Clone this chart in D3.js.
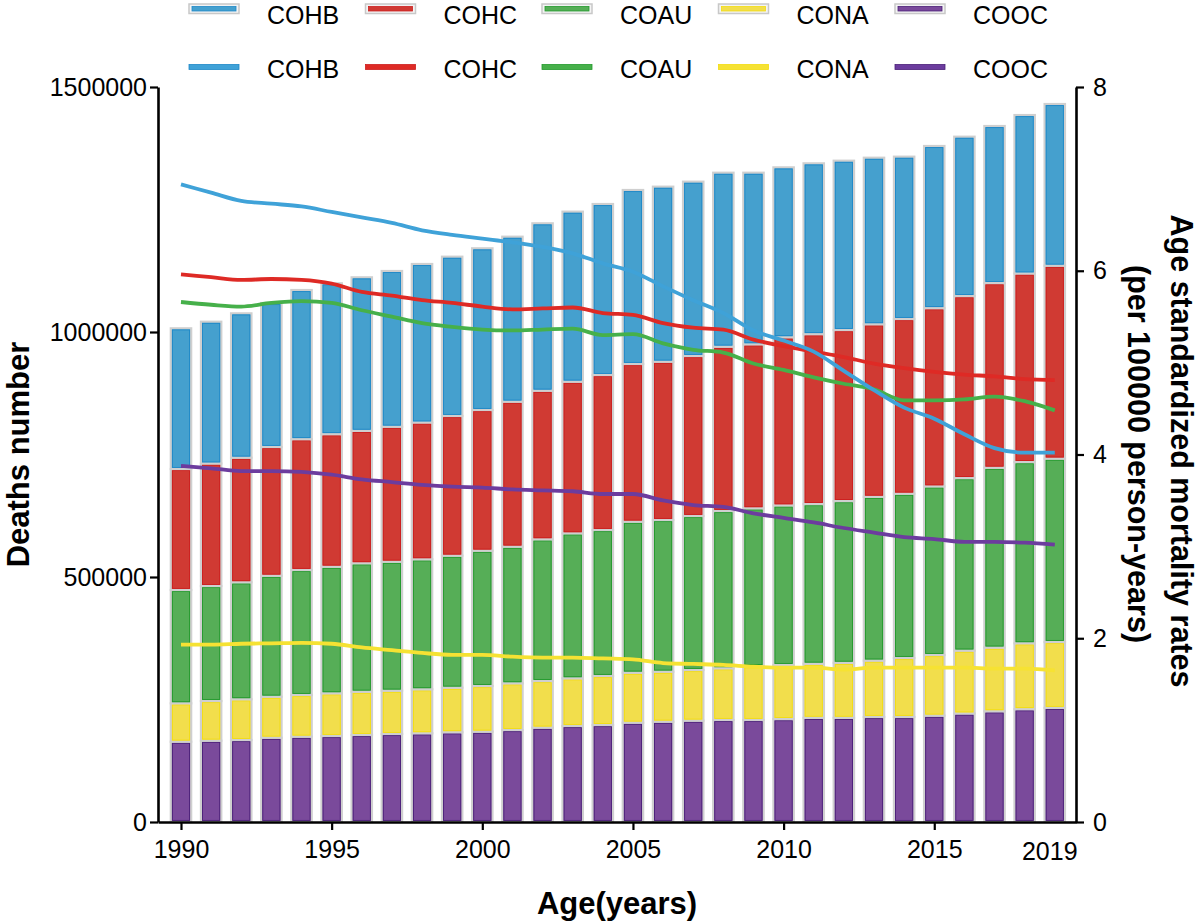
<!DOCTYPE html>
<html><head><meta charset="utf-8">
<script src="https://cdn.jsdelivr.net/npm/d3@7"></script>
<style>
html,body{margin:0;padding:0;background:#fff;}
svg{display:block;font-family:"Liberation Sans",Arial,Helvetica,sans-serif;}
</style></head>
<body><svg id="c" width="1200" height="923"></svg>
<script>
const years = [1990,1991,1992,1993,1994,1995,1996,1997,1998,1999,2000,2001,2002,2003,2004,2005,2006,2007,2008,2009,2010,2011,2012,2013,2014,2015,2016,2017,2018,2019];
const seriesNames = ["COHB","COHC","COAU","CONA","COOC"];
// Deaths number (stacked bars)
const deathsCOOC = [163900,165900,167300,172000,174100,175500,177600,179600,181000,183100,184300,187700,192500,195900,197900,202700,204700,206800,208200,208200,210000,212600,212600,214300,214300,217000,221400,225900,230200,232800];
const deathsCONA = [78300,81000,83100,83700,85100,87100,88300,88400,89800,91000,93200,95300,95200,97300,100100,102000,102100,103400,105500,109800,110400,110400,112300,115100,120400,123800,128400,130000,134500,134500];
const deathsCOAU = [231300,234700,238800,246900,255100,258400,262100,263200,265300,269400,276200,278900,289200,295900,297900,308200,309500,314300,321000,322200,325700,325800,330000,334300,335300,344100,352000,367100,369800,374300];
const deathsCOHC = [246900,250000,254300,262700,266900,270400,270300,275500,279200,285100,287100,295900,303300,309500,316300,321800,323100,326500,335300,334600,343100,346700,349100,352000,356500,363700,371500,376800,384900,393700];
const deathsCOHB = [287100,289400,294600,293900,304500,308000,313300,317800,323500,325100,330000,336700,341600,347000,349000,355100,357200,355800,355100,350300,346800,348700,345600,340000,331300,331000,325300,320600,323400,330000];
// Age standardized mortality rates (lines)
const rateCOHB = [6.94,6.85,6.76,6.73,6.70,6.64,6.58,6.52,6.44,6.39,6.35,6.31,6.26,6.19,6.08,5.99,5.83,5.68,5.54,5.35,5.24,5.12,4.91,4.70,4.51,4.39,4.22,4.07,4.02,4.02];
const rateCOHC = [5.96,5.93,5.90,5.91,5.90,5.86,5.77,5.73,5.68,5.65,5.61,5.58,5.59,5.60,5.54,5.52,5.43,5.38,5.36,5.25,5.18,5.12,5.06,4.99,4.94,4.90,4.87,4.85,4.82,4.81];
const rateCOAU = [5.66,5.63,5.61,5.65,5.67,5.65,5.57,5.50,5.43,5.39,5.36,5.35,5.36,5.37,5.30,5.31,5.21,5.14,5.11,4.99,4.92,4.84,4.77,4.71,4.59,4.59,4.60,4.63,4.58,4.48];
const rateCONA = [1.93,1.93,1.94,1.945,1.95,1.94,1.90,1.87,1.84,1.82,1.82,1.80,1.79,1.79,1.78,1.77,1.73,1.72,1.71,1.69,1.68,1.68,1.66,1.68,1.68,1.68,1.68,1.67,1.67,1.65];
const rateCOOC = [3.875,3.85,3.82,3.82,3.81,3.78,3.73,3.70,3.67,3.65,3.64,3.62,3.61,3.60,3.57,3.57,3.50,3.45,3.43,3.36,3.31,3.26,3.20,3.15,3.10,3.08,3.05,3.05,3.04,3.02];
const leftTicks = [0,500000,1000000,1500000];
const rightTicks = [0,2,4,6,8];
const xTicks = [1990,1995,2000,2005,2010,2015];
const lastYearLabel = 2019;

const barFill = {COHB:"#45a0ce",COHC:"#d03a33",COAU:"#56ae57",CONA:"#f2de4c",COOC:"#7a4a9b"};
const barEdge = {COHB:"#1e88c8",COHC:"#cc1f1f",COAU:"#22992c",CONA:"#f3dd10",COOC:"#4a1f78"};
const lineCol = {COHB:"#3fa2d8",COHC:"#de2a25",COAU:"#46b04a",CONA:"#f6e233",COOC:"#6c3c9e"};

const deaths = {COHB:deathsCOHB,COHC:deathsCOHC,COAU:deathsCOAU,CONA:deathsCONA,COOC:deathsCOOC};
const rates = {COHB:rateCOHB,COHC:rateCOHC,COAU:rateCOAU,CONA:rateCONA,COOC:rateCOOC};

const svg = d3.select("#c");
const x = d3.scaleLinear().domain([1989.237, 2019.704]).range([158, 1076]);
const yL = d3.scaleLinear().domain([0,1500000]).range([822,87]);
const yR = d3.scaleLinear().domain([0,8]).range([822,87]);

const table = years.map((yr,i)=>{const o={year:yr}; seriesNames.forEach(k=>o[k]=deaths[k][i]); return o;});
const stack = d3.stack().keys(["COOC","CONA","COAU","COHC","COHB"])(table);
const bw = 20.4;

const gBars = svg.append("g");
stack.forEach(layer=>{
  const k = layer.key;
  const g = gBars.append("g");
  g.selectAll("rect.o").data(layer).join("rect").attr("class","o")
    .attr("x",d=>x(d.data.year)-bw/2).attr("width",bw)
    .attr("y",d=>yL(d[1])).attr("height",d=>yL(d[0])-yL(d[1]))
    .attr("fill",barFill[k]).attr("stroke","#cfcfcf").attr("stroke-width",2.2);
  g.selectAll("rect.i").data(layer).join("rect").attr("class","i")
    .attr("x",d=>x(d.data.year)-bw/2+1.6).attr("width",bw-3.2)
    .attr("y",d=>yL(d[1])+1.6).attr("height",d=>Math.max(0,yL(d[0])-yL(d[1])-3.2))
    .attr("fill","none").attr("stroke",barEdge[k]).attr("stroke-width",0.9);
});

["COOC","CONA","COAU","COHC","COHB"].forEach(k=>{
  const line = d3.line().x((d,i)=>x(years[i])).y(d=>yR(d)).curve(d3.curveMonotoneX);
  svg.append("path").datum(rates[k]).attr("d",line)
    .attr("fill","none").attr("stroke",lineCol[k]).attr("stroke-width",3.8)
    .attr("stroke-linejoin","round").attr("stroke-linecap","butt");
});

// axes
const fontTick = 25;
function styleAxis(g){
  g.selectAll("path.domain").attr("stroke","#000").attr("stroke-width",2.6);
  g.selectAll(".tick line").attr("stroke","#000").attr("stroke-width",2.2);
  g.selectAll(".tick text").attr("fill","#000").style("font-size",fontTick+"px").style("font-family","'Liberation Sans',Arial,sans-serif");
}
const axL = svg.append("g").attr("transform","translate(158,0)")
  .call(d3.axisLeft(yL).tickValues(leftTicks).tickFormat(d3.format("d")).tickSize(8).tickSizeOuter(0).tickPadding(3));
styleAxis(axL);
const axR = svg.append("g").attr("transform","translate(1076,0)")
  .call(d3.axisRight(yR).tickValues(rightTicks).tickFormat(d3.format("d")).tickSize(8).tickSizeOuter(0).tickPadding(9));
styleAxis(axR);
const axB = svg.append("g").attr("transform","translate(0,822)")
  .call(d3.axisBottom(x).tickValues(xTicks).tickFormat(d3.format("d")).tickSize(8).tickSizeOuter(0).tickPadding(10));
styleAxis(axB);
svg.append("text").attr("x",x(lastYearLabel)-5).attr("y",860).attr("text-anchor","middle")
  .style("font-size",fontTick+"px").text(String(lastYearLabel));

// titles
svg.append("text").attr("transform","translate(29,454.5) rotate(-90)").attr("text-anchor","middle")
  .style("font-size","31px").style("font-weight","bold").text("Deaths number");
svg.append("text").attr("x",617).attr("y",914).attr("text-anchor","middle")
  .style("font-size","31px").style("font-weight","bold").text("Age(years)");
svg.append("text").attr("transform","translate(1171,451) rotate(90)").attr("text-anchor","middle")
  .style("font-size","30.5px").style("font-weight","bold").text("Age standardized mortality rates");
svg.append("text").attr("transform","translate(1128,454) rotate(90)").attr("text-anchor","middle")
  .style("font-size","30.5px").style("font-weight","bold").text("(per 100000 person-years)");

// legends
const legX0 = 189, legStep = 176.5;
seriesNames.forEach((k,i)=>{
  const lx = legX0 + i*legStep;
  svg.append("rect").attr("x",lx).attr("y",4).attr("width",50).attr("height",9.5)
    .attr("fill","#f4f4f4").attr("stroke","#c8c8c8").attr("stroke-width",1.5);
  svg.append("rect").attr("x",lx+3).attr("y",6.5).attr("width",44).attr("height",4.5)
    .attr("fill",barFill[k]).attr("stroke",barEdge[k]).attr("stroke-width",0.8);
  svg.append("text").attr("x",lx+78).attr("y",24).style("font-size","25px").text(k);
  svg.append("rect").attr("x",lx).attr("y",64.5).attr("width",50).attr("height",5)
    .attr("fill",lineCol[k]).attr("stroke",barEdge[k]).attr("stroke-width",0.8);
  svg.append("text").attr("x",lx+78).attr("y",78).style("font-size","25px").text(k);
});
</script></body></html>
